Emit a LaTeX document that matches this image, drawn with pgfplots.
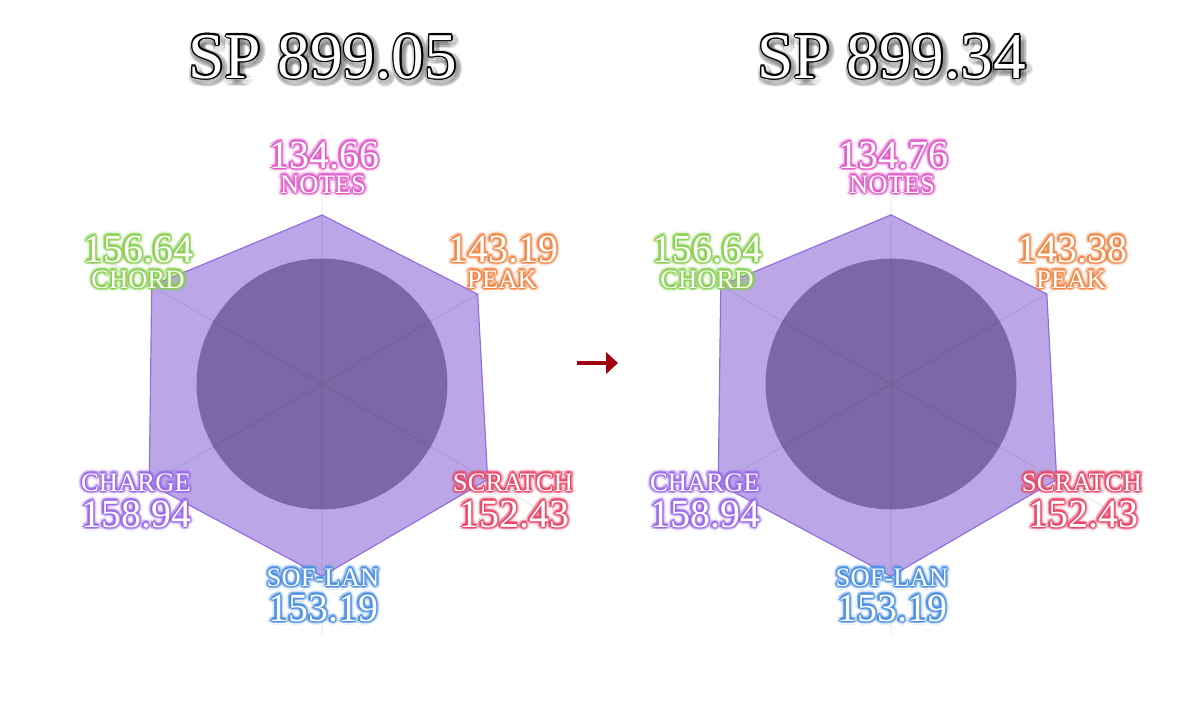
\documentclass[border=0pt]{standalone}
\usepackage{fontspec}
\setmainfont{Liberation Serif}
\usepackage{pgfplots}
\usepackage{pgfplotstable}
\pgfplotsset{compat=1.18}
\usepgfplotslibrary{polar}
\usetikzlibrary{arrows.meta}

\definecolor{hexfill}{HTML}{BBA7E8}
\definecolor{hexline}{HTML}{9370DB}
\definecolor{circfill}{HTML}{7B69A7}
\definecolor{cNotes}{HTML}{E05CC8}
\definecolor{cPeak}{HTML}{F08848}
\definecolor{cScratch}{HTML}{E84868}
\definecolor{cSof}{HTML}{4A8FE0}
\definecolor{cCharge}{HTML}{9A6AE8}
\definecolor{cChord}{HTML}{88D050}
\definecolor{arrowred}{HTML}{A00010}

% angle (deg) and value of each axis
\pgfplotstableread{
angle value
90  134.66
30  143.19
330 152.43
270 153.19
210 158.94
150 156.64
}\leftdata
\pgfplotstableread{
angle value
90  134.76
30  143.38
330 152.43
270 153.19
210 158.94
150 156.64
}\rightdata
\pgfplotstableread{
angle r
0 100
5 100
10 100
15 100
20 100
25 100
30 100
35 100
40 100
45 100
50 100
55 100
60 100
65 100
70 100
75 100
80 100
85 100
90 100
95 100
100 100
105 100
110 100
115 100
120 100
125 100
130 100
135 100
140 100
145 100
150 100
155 100
160 100
165 100
170 100
175 100
180 100
185 100
190 100
195 100
200 100
205 100
210 100
215 100
220 100
225 100
230 100
235 100
240 100
245 100
250 100
255 100
260 100
265 100
270 100
275 100
280 100
285 100
290 100
295 100
300 100
305 100
310 100
315 100
320 100
325 100
330 100
335 100
340 100
345 100
350 100
355 100
}\circledata

\pgfplotsset{radarstyle/.style={
  scale only axis, width=376.5pt, height=376.5pt,
  ymin=0, ymax=200, xmin=0, xmax=360,
  xtick={30,90,150,210,270,330}, xticklabels={},
  ytick=\empty,
  xmajorgrids=true, ymajorgrids=false,
  major grid style={black, opacity=0.08, line width=0.75pt},
  axis line style={draw=none}, tick style={draw=none},
  axis on top, anchor=center, clip=false}}

\newcommand{\numfont}{\fontsize{30}{34}\selectfont}
\newcommand{\namefont}{\fontsize{20}{24}\selectfont}
\newcommand{\ttlfont}{\fontsize{49}{56}\selectfont}

% #1 x, #2 y (baseline, px downward negative), #3 colour, #4 font, #5 text
\newcommand{\glow}[5]{%
  \foreach \a in {0,45,...,315}{\node[anchor=base,inner sep=0,text=#3,opacity=0.12,font=#4] at ([shift={(\a:4.2)}]#1,#2) {#5};}
  \foreach \a in {0,30,...,330}{\node[anchor=base,inner sep=0,text=#3,opacity=0.25,font=#4] at ([shift={(\a:2.6)}]#1,#2) {#5};}
  \foreach \a in {0,45,...,315}{\node[anchor=base,inner sep=0,text=#3,font=#4] at ([shift={(\a:1.1)}]#1,#2) {#5};}
  \node[anchor=base,inner sep=0,text=white,font=#4] at (#1,#2) {#5};
}
% title: shadow + black outline + white
\newcommand{\ttl}[3]{%
  \foreach \a in {0,30,...,330}{\node[anchor=base,inner sep=0,text=black,opacity=0.10,font=\ttlfont] at ([shift={(\a:5.5)}]#1+2,#2-3) {#3};}
  \foreach \a in {0,30,...,330}{\node[anchor=base,inner sep=0,text=black,opacity=0.9,font=\ttlfont] at ([shift={(\a:1.4)}]#1,#2) {#3};}
  \node[anchor=base,inner sep=0,text=white,font=\ttlfont] at (#1,#2) {#3};
}

\begin{document}
\begin{tikzpicture}[x=0.75pt,y=0.75pt]
\useasboundingbox (0,0) rectangle (1200,-726);

\begin{polaraxis}[radarstyle, at={(241.5pt,-288pt)}]
  \addplot[fill=hexfill, draw=hexline, line width=0.9pt] table[x=angle,y=value] {\leftdata} -- cycle;
  \addplot[fill=circfill, draw=none] table[x=angle,y=r] {\circledata} -- cycle;
\end{polaraxis}

\begin{polaraxis}[radarstyle, at={(668.25pt,-288pt)}]
  \addplot[fill=hexfill, draw=hexline, line width=0.9pt] table[x=angle,y=value] {\rightdata} -- cycle;
  \addplot[fill=circfill, draw=none] table[x=angle,y=r] {\circledata} -- cycle;
\end{polaraxis}

% titles
\ttl{323}{-78}{SP 899.05}
\ttl{892}{-78}{SP 899.34}

% arrow
\draw[arrowred, line width=3.5pt*0.75, -{Triangle[length=9pt, width=16pt]}] (577,-363) -- (618,-363);

% left labels
\glow{324}{-168}{cNotes}{\numfont}{134.66}
\glow{323}{-193}{cNotes}{\namefont}{NOTES}
\glow{503}{-262}{cPeak}{\numfont}{143.19}
\glow{502}{-288}{cPeak}{\namefont}{PEAK}
\glow{138}{-262}{cChord}{\numfont}{156.64}
\glow{138}{-288}{cChord}{\namefont}{CHORD}
\glow{136}{-491}{cCharge}{\namefont}{CHARGE}
\glow{136}{-527}{cCharge}{\numfont}{158.94}
\glow{513}{-491}{cScratch}{\namefont}{SCRATCH}
\glow{514}{-527}{cScratch}{\numfont}{152.43}
\glow{323}{-586}{cSof}{\namefont}{SOF-LAN}
\glow{323}{-621}{cSof}{\numfont}{153.19}

% right labels
\glow{893}{-168}{cNotes}{\numfont}{134.76}
\glow{892}{-193}{cNotes}{\namefont}{NOTES}
\glow{1072}{-262}{cPeak}{\numfont}{143.38}
\glow{1071}{-288}{cPeak}{\namefont}{PEAK}
\glow{707}{-262}{cChord}{\numfont}{156.64}
\glow{707}{-288}{cChord}{\namefont}{CHORD}
\glow{705}{-491}{cCharge}{\namefont}{CHARGE}
\glow{705}{-527}{cCharge}{\numfont}{158.94}
\glow{1082}{-491}{cScratch}{\namefont}{SCRATCH}
\glow{1083}{-527}{cScratch}{\numfont}{152.43}
\glow{892}{-586}{cSof}{\namefont}{SOF-LAN}
\glow{892}{-621}{cSof}{\numfont}{153.19}
\end{tikzpicture}
\end{document}
